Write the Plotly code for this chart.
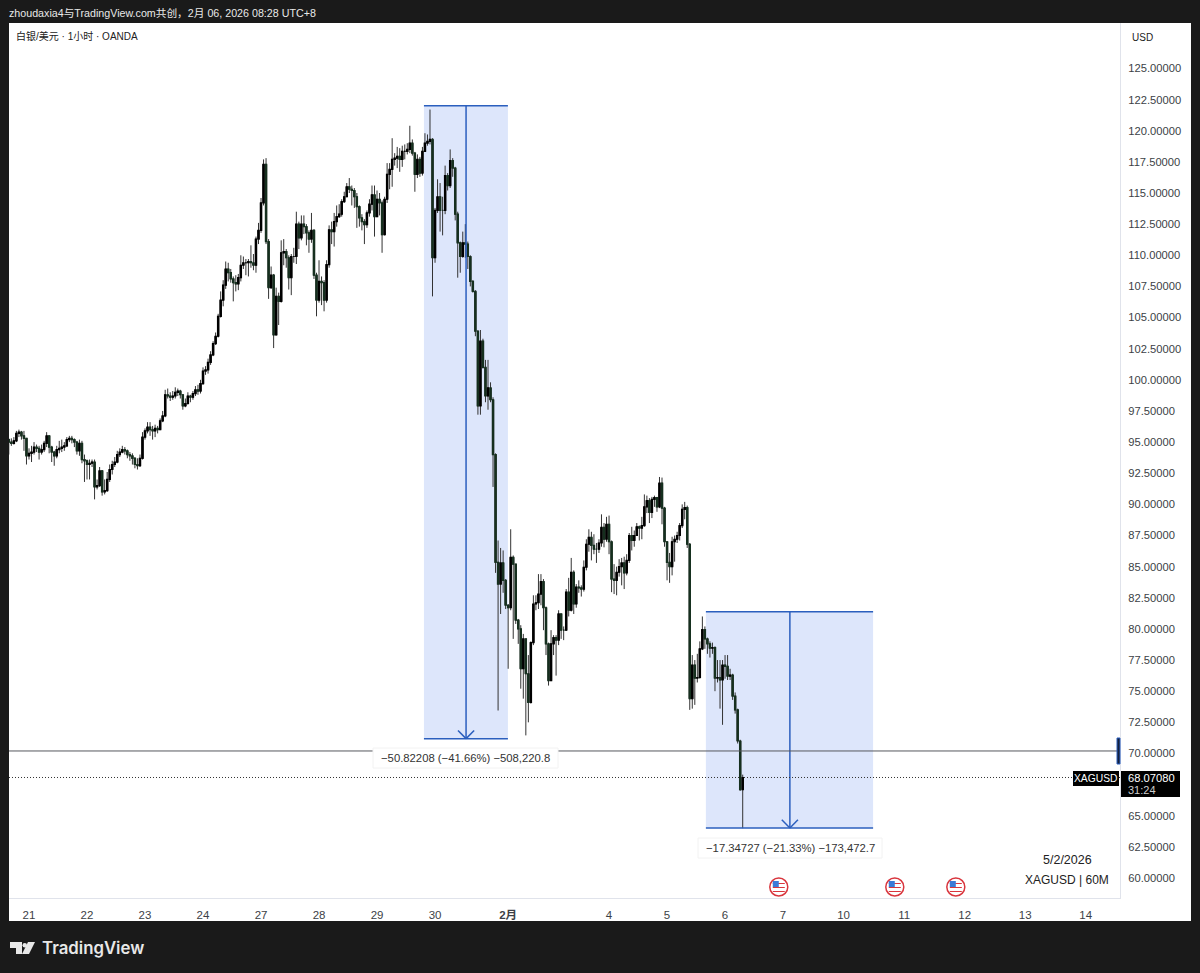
import plotly.graph_objects as go

# hourly XAGUSD bars, first bar index is -8
first_bar = -8
closes = [
    95.0, 94.9, 95.1, 95.7, 95.8, 95.5, 95.3, 93.9,
    94.1, 94.2, 94.6, 94.5, 94.2, 94.4, 94.9, 95.5, 94.6, 94.2,
    93.9, 94.4, 94.5, 94.6, 94.7, 95.2, 95.3, 95.2, 95.0, 94.3,
    94.9, 93.6, 93.5, 93.2, 93.3, 93.4, 91.4, 91.5, 92.7, 91.0,
    91.1, 92.0, 92.8, 93.2, 93.4, 94.0, 94.2, 94.4, 94.3, 94.0,
    93.9, 93.7, 93.2, 93.1, 93.7, 95.4, 95.9, 96.2, 96.0, 95.9,
    96.1, 96.0, 96.7, 97.1, 98.8, 98.7, 98.6, 98.7, 99.0, 99.1,
    98.8, 97.9, 98.1, 98.7, 98.6, 98.9, 99.2, 99.1, 99.7, 100.7,
    100.8, 101.4, 102.0, 102.9, 103.5, 105.1, 106.4, 107.6, 108.9, 108.6,
    108.1, 107.8, 107.7, 108.2, 109.2, 109.4, 109.4, 109.5, 109.4, 109.2,
    111.3, 112.0, 114.2, 117.3, 111.1, 107.4, 108.4, 103.6, 106.7, 106.3,
    110.2, 110.3, 109.8, 108.2, 109.9, 109.9, 112.5, 111.4, 112.5, 112.3,
    111.8, 111.3, 112.0, 108.4, 106.4, 107.9, 107.8, 106.4, 109.25, 112.05,
    111.9, 112.7, 113.1, 113.3, 114.3, 114.7, 115.5, 115.3, 115.2, 114.7,
    113.9, 113.0, 112.7, 112.45, 113.4, 114.1, 114.85, 113.1, 114.5, 114.2,
    111.65, 114.5, 116.5, 116.9, 117.7, 117.8, 117.95, 117.7, 118.35, 118.35,
    118.5, 119.0, 118.2, 116.5, 117.7, 116.6, 118.35, 119.0, 119.15, 119.3,
    109.8, 113.6, 114.7, 113.6, 113.6, 116.4, 115.6, 117.6, 117.0, 113.3,
    111.0, 109.9, 111.0, 110.9, 109.9, 107.9, 107.1, 103.9, 97.9, 103.1,
    101.0, 98.7, 99.35, 98.4, 94.0, 85.35, 83.6, 85.3, 83.9, 81.9,
    81.7, 85.75, 85.2, 80.7, 80.0, 76.8, 79.2, 76.4, 74.1, 78.9,
    82.0, 82.1, 82.8, 83.8, 81.7, 78.8, 75.85, 78.8, 79.3, 79.1,
    81.2, 79.9, 79.9, 82.95, 81.5, 84.55, 82.0, 83.35, 83.3, 83.2,
    84.95, 86.8, 87.35, 86.7, 86.4, 86.4, 86.9, 88.15, 87.2, 88.4,
    87.0, 84.0, 83.9, 84.55, 85.0, 85.3, 84.5, 85.5, 87.5, 87.1,
    87.5, 88.2, 88.1, 88.3, 89.8, 90.3, 89.35, 90.4, 90.55, 89.8,
    91.7, 89.7, 87.0, 85.35, 85.0, 87.0, 87.2, 87.5, 88.3, 89.6,
    89.75, 86.8, 74.4, 77.1, 76.05, 76.1, 78.4, 79.95, 79.2, 78.8,
    78.45, 78.5, 76.05, 76.1, 75.9, 77.1, 77.0, 76.2, 76.3, 74.6,
    73.5, 71.0, 67.1, 68.0708,
]
highs = [
    95.3, 95.3, 95.4, 95.9, 96.0, 95.9, 95.9, 95.2,
    94.5, 94.7, 95.0, 94.8, 94.7, 94.8, 95.1, 95.8, 95.5, 94.7,
    94.3, 94.7, 95.1, 95.2, 95.0, 95.4, 95.5, 95.5, 95.3, 95.1,
    95.2, 95.1, 94.0, 93.6, 93.6, 93.6, 93.6, 92.0, 93.0, 92.6,
    92.0, 92.6, 93.2, 93.5, 93.8, 94.3, 94.5, 94.7, 94.6, 94.4,
    94.2, 94.1, 93.8, 93.7, 94.0, 95.8, 96.1, 96.6, 96.6, 96.3,
    96.4, 96.3, 96.9, 97.5, 99.2, 99.3, 99.0, 99.1, 99.4, 99.3,
    99.2, 98.7, 98.5, 99.0, 98.8, 99.1, 99.5, 99.6, 100.0, 101.0,
    101.1, 101.7, 102.3, 103.1, 103.8, 105.3, 107.1, 108.0, 109.5, 109.4,
    108.9, 108.3, 108.4, 108.5, 110.0, 109.9, 109.7, 109.7, 110.8, 110.1,
    111.5, 112.6, 114.6, 117.7, 117.8, 111.3, 109.1, 108.5, 107.4, 107.0,
    111.2, 111.3, 110.5, 110.0, 110.1, 110.6, 113.5, 112.7, 113.2, 113.2,
    112.5, 112.0, 113.4, 112.1, 108.6, 109.6, 108.3, 108.0, 109.6, 112.4,
    112.7, 113.4, 114.0, 114.1, 114.5, 115.1, 115.8, 116.2, 115.6, 115.4,
    115.0, 114.0, 113.3, 112.9, 113.6, 114.5, 115.6, 115.6, 115.2, 115.0,
    114.4, 114.7, 117.4, 117.4, 119.4, 118.2, 118.7, 118.6, 118.8, 118.9,
    119.0, 120.4, 119.3, 118.3, 118.1, 117.9, 118.7, 119.8, 119.7, 121.7,
    119.4, 113.8, 116.1, 115.8, 114.7, 117.2, 116.6, 118.5, 117.8, 117.1,
    113.5, 111.1, 111.9, 112.5, 111.1, 110.0, 108.0, 107.2, 104.0, 104.0,
    103.3, 101.6, 101.6, 99.8, 98.6, 94.1, 87.1, 86.5, 86.3, 84.0,
    82.0, 88.0, 85.9, 85.2, 80.8, 80.3, 79.6, 79.1, 77.9, 79.0,
    82.7, 82.7, 84.4, 84.4, 84.0, 81.8, 78.9, 79.9, 79.5, 79.5,
    81.5, 81.2, 80.2, 83.2, 84.1, 85.7, 84.7, 83.6, 83.9, 83.5,
    85.5, 87.2, 88.0, 87.8, 87.6, 86.9, 87.2, 89.2, 88.5, 89.0,
    89.1, 87.1, 85.2, 85.0, 85.6, 85.7, 85.8, 86.0, 87.7, 88.2,
    87.9, 88.5, 88.3, 89.0, 90.8, 90.7, 90.5, 90.6, 90.7, 90.6,
    92.2, 92.15, 89.8, 87.0, 86.1, 87.4, 87.5, 87.8, 88.5, 90.0,
    90.2, 89.9, 86.9, 77.9, 77.5, 78.0, 79.0, 81.0, 80.2, 79.3,
    79.0, 78.9, 78.6, 77.5, 77.5, 77.5, 77.9, 77.9, 76.8, 76.4,
    74.9, 73.6, 71.1, 68.3,
]
lows = [
    94.0, 94.7, 94.8, 95.0, 95.4, 95.2, 94.3, 93.2,
    93.6, 93.4, 94.0, 94.2, 93.6, 94.0, 94.2, 94.6, 94.1, 93.4,
    93.1, 93.7, 94.1, 94.2, 94.3, 94.6, 95.0, 94.9, 94.6, 94.0,
    93.9, 93.3, 91.8, 92.0, 92.0, 93.0, 90.4, 91.2, 91.4, 90.7,
    90.8, 91.0, 91.8, 92.4, 93.0, 93.3, 93.8, 94.1, 94.0, 93.7,
    93.5, 93.2, 92.9, 92.8, 93.0, 93.6, 95.2, 95.7, 95.5, 95.2,
    95.4, 95.7, 96.0, 96.6, 97.0, 98.5, 98.3, 98.4, 98.5, 98.7,
    98.5, 97.6, 97.8, 98.0, 98.2, 98.4, 98.7, 98.8, 98.9, 99.6,
    100.4, 100.5, 101.2, 101.9, 102.8, 103.4, 105.0, 105.9, 107.3, 107.9,
    107.8, 106.3, 107.1, 107.2, 107.9, 108.9, 108.4, 108.3, 109.0, 108.8,
    108.6, 110.9, 111.8, 114.0, 110.9, 106.5, 107.3, 102.55, 104.7, 104.4,
    106.2, 109.2, 109.0, 107.25, 106.8, 109.4, 109.3, 110.5, 111.2, 111.7,
    110.8, 110.2, 111.0, 108.1, 105.1, 106.2, 106.0, 105.5, 106.2, 109.0,
    110.9, 110.7, 112.3, 113.0, 113.1, 114.2, 114.7, 115.0, 114.0, 113.8,
    112.2, 112.3, 112.0, 110.9, 112.2, 113.1, 113.6, 111.5, 113.2, 113.2,
    110.2, 111.6, 114.2, 115.3, 115.5, 117.2, 117.0, 116.7, 117.1, 117.7,
    118.1, 118.2, 118.0, 115.1, 116.2, 116.3, 116.4, 118.3, 118.8, 118.9,
    106.7, 109.4, 113.4, 111.9, 111.6, 113.3, 115.2, 115.4, 116.3, 112.8,
    108.2, 108.6, 109.8, 109.8, 108.9, 107.5, 107.0, 103.5, 97.2, 97.2,
    100.9, 98.2, 97.6, 98.2, 91.4, 84.5, 73.45, 81.2, 82.9, 81.6,
    76.8, 81.5, 79.2, 80.4, 78.8, 75.2, 74.4, 71.45, 72.5, 74.0,
    78.7, 81.5, 81.6, 81.9, 79.9, 77.9, 75.45, 76.2, 77.9, 76.25,
    78.7, 79.2, 79.1, 80.5, 81.0, 81.4, 81.2, 81.7, 82.9, 82.6,
    83.0, 84.7, 86.2, 85.5, 86.0, 85.3, 86.1, 86.6, 86.55, 87.0,
    86.0, 82.95, 82.8, 82.7, 84.2, 83.5, 83.2, 84.3, 85.3, 86.3,
    86.6, 87.6, 87.1, 87.2, 88.2, 89.3, 88.5, 88.9, 89.8, 89.4,
    89.7, 88.4, 86.6, 83.9, 83.7, 84.3, 85.4, 86.9, 87.1, 88.1,
    88.8, 86.5, 73.5, 73.6, 73.9, 75.7, 76.0, 78.3, 78.4, 78.0,
    77.7, 78.0, 75.0, 75.7, 73.6, 72.3, 76.0, 75.9, 75.9, 74.3,
    73.2, 70.8, 67.0, 64.0,
]

bar_index = list(range(first_bar, first_bar + len(closes)))
opens = [95.2] + closes[:-1]

# axis labels
day_labels = ["21", "22", "23", "24", "27", "28", "29", "30", "<b>2月</b>", "4", "5", "6", "7", "10", "11", "12", "13", "14"]
day_bars = [0, 23, 46, 69, 92, 115, 138, 161, 190, 230, 253, 276, 299, 323, 347, 371, 395, 419]
price_ticks = [60, 62.5, 65, 70, 72.5, 75, 77.5, 80, 82.5, 85, 87.5, 90, 92.5, 95, 97.5, 100,
               102.5, 105, 107.5, 110, 112.5, 115, 117.5, 120, 122.5, 125]

# levels and the two measure tools
level_price = 70.2
last_price = 68.0708
measure_a = dict(bar0=156.6, bar1=189.9, mid=173.3, top=122.0, bottom=71.19)
measure_b = dict(bar0=268.4, bar1=334.7, mid=301.7, top=81.37, bottom=64.02)
event_bars = [297.3, 343.3, 367.5]

PAPER = "#1a1a1a"
BLUE = "#2b5fbe"
RECT = "#dde6fb"
FONT = "Liberation Sans, Noto Sans CJK SC"
AXIS_TEXT = "#3c3f46"

# pixel box of the plot area
L, R, T, B = 9, 1120, 23, 898


def xp(px):
    return (px - L) / (R - L)


def yp(py):
    return (B - py) / (B - T)


def rect_px(x0, y0, x1, y1, color, layer="above", line=None):
    return dict(type="rect", xref="paper", yref="paper", x0=xp(x0), x1=xp(x1), y0=yp(y0), y1=yp(y1),
                fillcolor=color, line=dict(color=line or color, width=1 if line else 0), layer=layer)


def poly_px(points, color):
    path = "M " + " L ".join(f"{xp(a):.5f},{yp(b):.5f}" for a, b in points) + " Z"
    return dict(type="path", xref="paper", yref="paper", path=path, fillcolor=color, line=dict(width=0), layer="above")


def label(px, py, text, size=11.5, color="#131722", anchor="left", **kw):
    return dict(xref="paper", yref="paper", x=xp(px), y=yp(py), text=text, showarrow=False, xanchor=anchor,
                yanchor="middle", font=dict(family=kw.pop("family", FONT), size=size, color=color,
                                            weight=kw.pop("weight", 400)), **kw)


shapes = [
    # white panel with both axes
    rect_px(L, T, 1191, 921, "#ffffff", layer="below"),
]

for m in (measure_a, measure_b):
    shapes.append(dict(type="rect", x0=m["bar0"], x1=m["bar1"], y0=m["bottom"], y1=m["top"],
                       fillcolor=RECT, line=dict(width=0), layer="below"))
    for lvl in ("top", "bottom"):
        shapes.append(dict(type="line", x0=m["bar0"], x1=m["bar1"], y0=m[lvl], y1=m[lvl],
                           line=dict(color=BLUE, width=1.5)))
    shapes.append(dict(type="line", x0=m["mid"], x1=m["mid"], y0=m["top"], y1=m["bottom"],
                       line=dict(color=BLUE, width=1.5)))
    for side in (-3.2, 3.2):
        shapes.append(dict(type="line", x0=m["mid"] + side, x1=m["mid"], y0=m["bottom"] + 0.66, y1=m["bottom"],
                           line=dict(color=BLUE, width=1.5)))

shapes += [
    dict(type="line", xref="paper", x0=0, x1=1, y0=level_price, y1=level_price, line=dict(color="#55585e", width=1)),
    dict(type="line", xref="paper", x0=0, x1=1, y0=last_price, y1=last_price,
         line=dict(color="#333333", width=1, dash="1px,2px")),
    # pills of the measure tools cover the level line
    rect_px(373, 748, 558, 768, "#ffffff", line="#f2f2f2"),
    rect_px(698, 838, 882, 858, "#ffffff", line="#f2f2f2"),
    # handle on the level line, price badges
    rect_px(1117, 738, 1120, 764, "#14213d", line=BLUE),
    rect_px(1073, 771, 1119, 786, "#000000"),
    rect_px(1121, 771, 1180, 797, "#000000"),
]

# calendar event flags
for bar in event_bars:
    cx = L + (bar + 7.93) * (R - L) / 440.53
    cy = 887
    shapes.append(dict(type="circle", xref="paper", yref="paper", x0=xp(cx - 9), x1=xp(cx + 9), y0=yp(cy + 9), y1=yp(cy - 9),
                       fillcolor="#ffffff", line=dict(color="#d9363e", width=1.5), layer="above"))
    for dy in (-3, 1, 5):
        shapes.append(rect_px(cx - 6, cy + dy - 1, cx + 6, cy + dy, "#d9363e"))
    shapes.append(rect_px(cx - 6, cy - 6, cx, cy, "#3b7bd8"))

# TradingView logo
shapes += [
    poly_px([(10, 942), (22, 942), (22, 954), (16, 954), (16, 948), (10, 948)], "#e8e8e8"),
    dict(type="circle", xref="paper", yref="paper", x0=xp(22.5), x1=xp(27), y0=yp(947.5), y1=yp(943),
         fillcolor="#e8e8e8", line=dict(width=0), layer="above"),
    poly_px([(28, 942), (35, 942), (29, 954), (22, 954)], "#e8e8e8"),
]

annotations = [
    label(6.5, 13, "zhoudaxia4与TradingView.com共创，2月 06, 2026 08:28 UTC+8", size=10.7, color="#e8e8e8"),
    label(14, 36, "白银/美元 · 1小时 · OANDA", size=10, color="#222222"),
    label(1130, 37, "USD", size=10, color="#222222"),
    label(465.5, 758, "−50.82208 (−41.66%) −508,220.8", size=11.3, color="#333333", anchor="center"),
    label(790, 848, "−17.34727 (−21.33%) −173,472.7", size=11.3, color="#333333", anchor="center"),
    label(1096, 778.5, "XAGUSD", size=10.3, color="#ffffff", anchor="center"),
    label(1126, 778, "68.07080", size=11.2, color="#ffffff"),
    label(1126, 790, "31:24", size=11, color="#cccccc"),
    label(1067, 860, "5/2/2026", size=12.5, color="#222222", anchor="center"),
    label(1066.5, 880, "XAGUSD | 60M", size=12, color="#222222", anchor="center"),
    label(40, 948, "TradingView", size=16.8, color="#e8e8e8", family="Inter", weight=600),
]

# wicks thin and soft, bodies solid on top
fig = go.Figure()
fig.add_trace(go.Candlestick(
    x=bar_index, open=opens, high=highs, low=lows, close=closes,
    whiskerwidth=0,
    increasing=dict(line=dict(color="#333333", width=1), fillcolor="#333333"),
    decreasing=dict(line=dict(color="#333333", width=1), fillcolor="#333333"),
    showlegend=False, hoverinfo="skip",
))
body_top = [max(o, c) for o, c in zip(opens, closes)]
body_bottom = [min(o, c) for o, c in zip(opens, closes)]
fig.add_trace(go.Candlestick(
    x=bar_index, open=opens, high=body_top, low=body_bottom, close=closes,
    whiskerwidth=0,
    increasing=dict(line=dict(color="#000000", width=1.2), fillcolor="#000000"),
    decreasing=dict(line=dict(color="#16301f", width=1.2), fillcolor="#16301f"),
    showlegend=False, hoverinfo="skip",
))

fig.update_layout(
    width=1200, height=973, autosize=False,
    margin=dict(l=L, r=1200 - R, t=T, b=973 - B),
    paper_bgcolor=PAPER, plot_bgcolor="#ffffff",
    font=dict(family=FONT, size=11.5, color=AXIS_TEXT),
    shapes=shapes, annotations=annotations, showlegend=False,
    xaxis=dict(range=[-7.93, 432.6], rangeslider=dict(visible=False), showgrid=False, zeroline=False,
               tickmode="array", tickvals=day_bars, ticktext=day_labels, ticks="", ticklabelstandoff=6,
               tickfont=dict(size=11.5, color=AXIS_TEXT, family=FONT),
               showline=True, linecolor="#e0e3eb", linewidth=1),
    yaxis=dict(range=[58.395, 128.65], side="right", showgrid=False, zeroline=False,
               tickmode="array", tickvals=price_ticks, ticktext=[f"{p:.5f}" for p in price_ticks], ticks="",
               ticklabelstandoff=5, tickfont=dict(size=11.2, color=AXIS_TEXT, family=FONT),
               showline=True, linecolor="#e0e3eb", linewidth=1),
)

fig.write_html("out.html", config=dict(displayModeBar=False),
               post_script="document.body.style.margin='0';document.body.style.background='#1a1a1a';")
